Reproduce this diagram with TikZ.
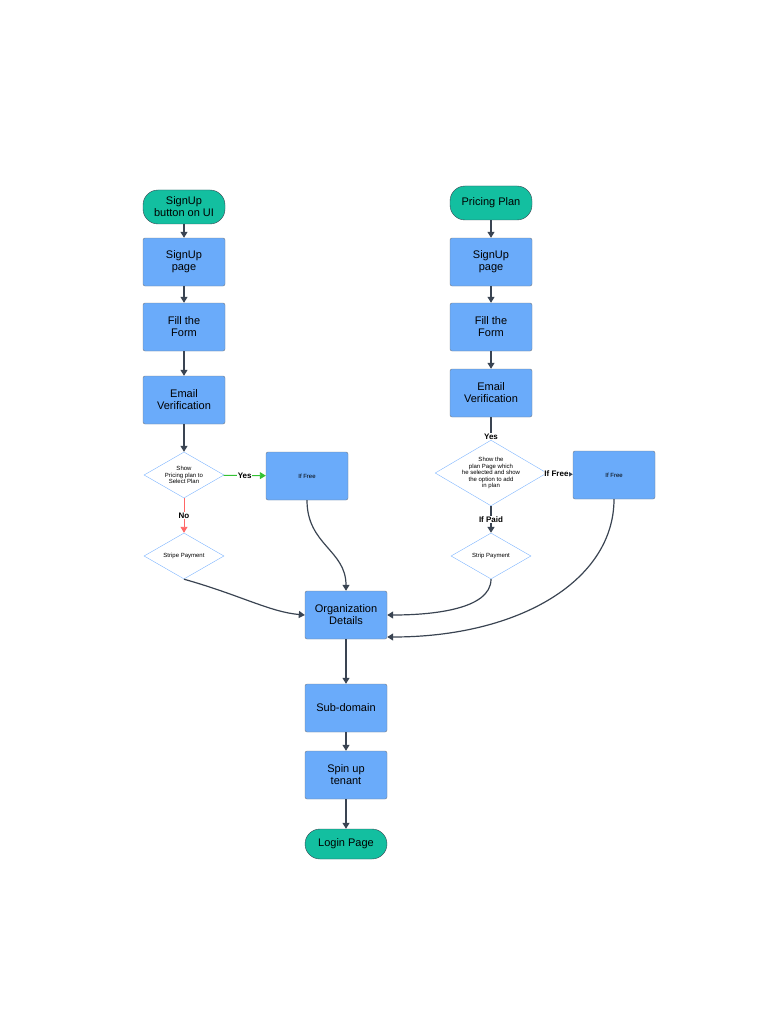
\documentclass[tikz,border=0pt]{standalone}
\usepackage{fontspec}
\setmainfont{Liberation Sans}
\usetikzlibrary{arrows.meta,shapes.geometric}
\definecolor{term}{HTML}{13BFA0}
\definecolor{boxb}{HTML}{6AABFA}
\definecolor{dia}{HTML}{7FB6FF}
\definecolor{arr}{HTML}{3A4452}
\tikzset{
  term/.style={draw=arr,fill=term,rounded corners=15pt,minimum width=82pt,minimum height=34pt,align=center,font=\fontsize{11}{12}\selectfont},
  box/.style={draw=arr!70,fill=boxb,rounded corners=2pt,minimum width=82pt,minimum height=48pt,align=center,font=\fontsize{11}{12}\selectfont},
  dec/.style={diamond,aspect=1.7,draw=dia,fill=white,minimum width=80pt,minimum height=46pt,inner sep=0pt,align=center,font=\fontsize{6}{6.5}\selectfont},
  flow/.style={draw=arr,line width=1.2pt,-{Triangle[length=6pt,width=7pt]}},
  lbl/.style={font=\bfseries\fontsize{8}{9}\selectfont,fill=white,inner sep=0.5pt}
}
\begin{document}
\begin{tikzpicture}[x=1pt,y=-1pt]
\useasboundingbox (0,0) rectangle (768,1024);
% left column
\node[term] (ui) at (184,207) {SignUp\\button on UI};
\node[box] (lsign) at (184,262) {SignUp\\page};
\node[box] (lform) at (184,327) {Fill the\\Form};
\node[box] (lmail) at (184,400) {Email\\Verification};
\node[dec] (lplan) at (184,475) {Show\\Pricing plan to\\Select Plan};
\node[box,font=\fontsize{6}{7}\selectfont] (lfree) at (307,476) {If Free};
\node[dec] (lpay) at (184,556) {Stripe Payment};
% right column
\node[term] (price) at (491,203) {Pricing Plan};
\node[box] (rsign) at (491,262) {SignUp\\page};
\node[box] (rform) at (491,327) {Fill the\\Form};
\node[box] (rmail) at (491,393) {Email\\Verification};
\node[dec,minimum width=82pt,minimum height=48pt] (rplan) at (491,473) {Show the\\plan Page which\\he selected and show\\the option to add\\in plan};
\node[box,font=\fontsize{6}{7}\selectfont] (rfree) at (614,475) {If Free};
\node[dec] (rpay) at (491,556) {Strip Payment};
% bottom
\node[box] (org) at (346,615) {Organization\\Details};
\node[box] (sub) at (346,708) {Sub-domain};
\node[box] (spin) at (346,775) {Spin up\\tenant};
\node[term,minimum height=30pt] (login) at (346,844) {Login Page};

\draw[flow] (ui) -- (lsign);
\draw[flow] (lsign) -- (lform);
\draw[flow] (lform) -- (lmail);
\draw[flow] (lmail) -- (lplan);
\draw[flow,draw=green!70!black!80,line width=0.9pt] (lplan) -- node[lbl]{Yes} (lfree);
\draw[flow,draw=red!60,line width=0.9pt] (lplan) -- node[lbl]{No} (lpay);
\draw[flow] (price) -- (rsign);
\draw[flow] (rsign) -- (rform);
\draw[flow] (rform) -- (rmail);
\draw[flow,line width=2pt] (rmail) -- node[lbl,pos=0.85]{Yes} (rplan);
\draw[flow,line width=2pt] (rplan) -- node[lbl,pos=0.4]{If Free} (rfree);
\draw[flow,line width=2pt] (rplan) -- node[lbl]{If Paid} (rpay);
\draw[flow] (lfree.south) .. controls (307,545) and (346,550) .. (org.north);
\draw[flow] (lpay.south) .. controls (240,595) and (270,612) .. (org.west);
\draw[flow] (rpay.south) .. controls (491,610) and (430,615) .. (org.east);
\draw[flow] (rfree.south) .. controls (614,580) and (520,637) .. ([yshift=-22pt]org.east);
\draw[flow] (org) -- (sub);
\draw[flow] (sub) -- (spin);
\draw[flow] (spin) -- (login);
\end{tikzpicture}
\end{document}
